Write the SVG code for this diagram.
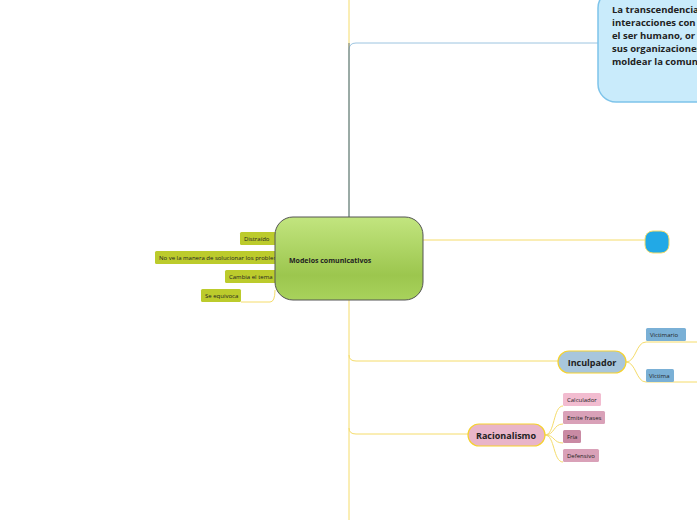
<svg xmlns="http://www.w3.org/2000/svg" width="697" height="520" viewBox="0 0 697 520">
<style>
.c{fill:none;stroke:#f5dc6a;stroke-width:1}
.t{font-family:"Open Sans","DejaVu Sans",sans-serif;fill:#222}
.s{font-size:6px}
.lf{fill:#bccb2c}
</style>
<defs>
<linearGradient id="g" x1="0" y1="0" x2="0" y2="1">
<stop offset="0" stop-color="#c2e57f"/><stop offset="0.7" stop-color="#9cc64e"/><stop offset="1" stop-color="#a8d25c"/>
</linearGradient>
</defs>
<rect width="697" height="520" fill="#fff"/>
<g id="connectors">
<path class="c" d="M349 0V217"/>
<path d="M349 217V50Q349 43 356 43H598" fill="none" stroke="#9cc4e0" stroke-width="1"/>
<path d="M349 43V217" fill="none" stroke="#6b7c80" stroke-width="1"/>
<path class="c" d="M423 240H645"/>
<path class="c" d="M349 300V520"/>
<path class="c" d="M349 355Q349 361 356 361H558"/>
<path class="c" d="M349 428Q349 434 356 434H468"/>
<path class="c" d="M626 362C636 362 636 342 646 342H697M626 362C636 362 636 382 646 382H697"/>
<path class="c" d="M545 435C555 435 553 406 563 406M545 435C555 435 553 424 563 424M545 435C555 435 553 443 563 443M545 435C555 435 553 462 563 462"/>
<path class="c" d="M241 302H270Q275 302 275 290"/>
</g>
<g id="n-left">
<rect class="lf" x="240" y="232" width="36" height="13" rx="1.5"/><text class="t s" x="244" y="241">Distraído</text>
<rect class="lf" x="155" y="251" width="125" height="13" rx="1.5"/><text class="t s" x="159" y="260">No ve la manera de solucionar los problemas</text>
<rect class="lf" x="225" y="270" width="52" height="13" rx="1.5"/><text class="t s" x="229" y="279">Cambia el tema</text>
<rect class="lf" x="201" y="289" width="40" height="13" rx="1.5"/><text class="t s" x="205" y="298">Se equivoca</text>
</g>
<g id="n-center">
<rect x="275" y="217" width="148" height="83" rx="18" fill="url(#g)" stroke="#555" stroke-width="1"/>
<text class="t" x="289" y="263" font-size="7" font-weight="bold" fill="#444">Modelos comunicativos</text>
</g>
<g id="n-top">
<rect x="598" y="-10" width="120" height="112" rx="18" fill="#c9ebfb" stroke="#7ec4ea" stroke-width="1.5"/>
<text class="t" font-weight="bold" font-size="9.5" fill="#1a2a4a"><tspan x="612" y="13">La transcendencia de las</tspan><tspan x="612" y="26">interacciones con</tspan><tspan x="612" y="39">el ser humano, or</tspan><tspan x="612" y="52">sus organizaciones</tspan><tspan x="612" y="65">moldear la comunicación</tspan></text>
</g>
<g id="n-blue"><rect x="645" y="231" width="24" height="22" rx="8" fill="#22a9e6" stroke="#f5dc6a"/></g>
<g id="n-inculpador">
<rect x="558" y="351" width="68" height="22" rx="11" fill="#a8c6dc" stroke="#f5d230" stroke-width="1.2"/>
<text class="t" x="592" y="366" text-anchor="middle" font-size="9" font-weight="bold">Inculpador</text>
<rect x="646" y="328" width="40" height="13" rx="1.5" fill="#7ab0d6"/><text class="t s" x="650" y="337">Victimario</text>
<rect x="646" y="369" width="28" height="13" rx="1.5" fill="#7ab0d6"/><text class="t s" x="649" y="378">Víctima</text>
</g>
<g id="n-racionalismo">
<rect x="468" y="424" width="77" height="22" rx="11" fill="#e9b5c9" stroke="#f5d230" stroke-width="1.2"/>
<text class="t" x="506" y="439" text-anchor="middle" font-size="9" font-weight="bold">Racionalismo</text>
<rect x="563" y="393" width="38" height="13" rx="1.5" fill="#f2bcd0"/><text class="t s" x="567" y="402">Calculador</text>
<rect x="563" y="411" width="42" height="13" rx="1.5" fill="#d9a1b8"/><text class="t s" x="567" y="420">Emite frases</text>
<rect x="563" y="430" width="18" height="13" rx="1.5" fill="#c98aa4"/><text class="t s" x="567" y="439">Fría</text>
<rect x="563" y="449" width="36" height="13" rx="1.5" fill="#d9a1b8"/><text class="t s" x="567" y="458">Defensivo</text>
</g>
</svg>
